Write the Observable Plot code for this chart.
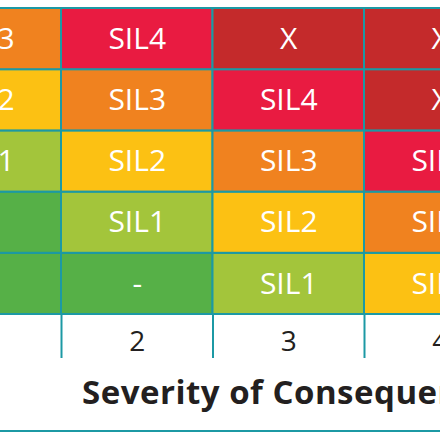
<!DOCTYPE html>
<html><head><meta charset="utf-8">
<script src="https://cdn.jsdelivr.net/npm/d3@7"></script>
<script src="https://cdn.jsdelivr.net/npm/@observablehq/plot@0.6"></script>
<style>
html,body{margin:0;padding:0;background:#fff;overflow:hidden;width:440px;height:440px;}
#title{font-family:"Open Sans",sans-serif;font-weight:700;font-size:33px;letter-spacing:0.5px;color:#231f20;white-space:nowrap;
  line-height:40px;height:40px;padding-left:82px;padding-bottom:18px;border-bottom:2px solid #1c99a4;}
svg{display:block}
</style></head>
<body>
<div id="chart"></div>
<div id="title">Severity of Consequence</div>
<script>
// Severity of consequence (columns) and likelihood (rows, 1 = bottom)
const severities = [1, 2, 3, 4];
const likelihoods = [1, 2, 3, 4, 5];
// SIL requirement per severity column, listed from likelihood 1 upward
const sev1 = ["-", "-", "SIL1", "SIL2", "SIL3"];
const sev2 = ["-", "SIL1", "SIL2", "SIL3", "SIL4"];
const sev3 = ["SIL1", "SIL2", "SIL3", "SIL4", "X"];
const sev4 = ["SIL2", "SIL3", "SIL4", "X", "X"];
const levels = ["-", "SIL1", "SIL2", "SIL3", "SIL4", "X"];
const levelColors = ["#56b047", "#a3c53b", "#fcc113", "#f0821f", "#e91b41", "#c42a2b"];
const tickLabels = ["1", "2", "3", "4"];

const columns = [sev1, sev2, sev3, sev4];
const cells = [];
severities.forEach((s, i) => likelihoods.forEach((l, j) => cells.push({sev: s, lik: l, level: columns[i][j]})));
const boundaries = severities.map(s => s + 0.5).slice(0, -1);

const teal = "#1c99a4";
const chart = Plot.plot({
  width: 440,
  height: 372,
  marginTop: 8,
  marginBottom: 58,
  marginLeft: 0,
  marginRight: 0,
  style: {fontFamily: "'Open Sans', sans-serif", background: "white"},
  x: {domain: [0.5, 4.5], range: [-90.5, 515.5], label: null},
  y: {domain: [0.5, 5.5], axis: null, label: null},
  color: {type: "ordinal", domain: levels, range: levelColors},
  marks: [
    Plot.rect(cells, {
      x1: d => d.sev - 0.5, x2: d => d.sev + 0.5,
      y1: d => d.lik - 0.5, y2: d => d.lik + 0.5,
      fill: "level", stroke: teal, strokeWidth: 2
    }),
    Plot.text(cells, {x: "sev", y: "lik", text: "level", fill: "white", fontSize: 30}),
    Plot.axisX({ticks: boundaries, tickSize: 44, tickFormat: () => "", label: null, stroke: teal, strokeWidth: 2}),
    Plot.axisX({ticks: severities, tickSize: 0, tickPadding: 17, fontSize: 28, fill: "#231f20", label: null,
      tickFormat: d => tickLabels[severities.indexOf(d)]})
  ]
});
document.getElementById("chart").appendChild(chart);
</script>
</body></html>
